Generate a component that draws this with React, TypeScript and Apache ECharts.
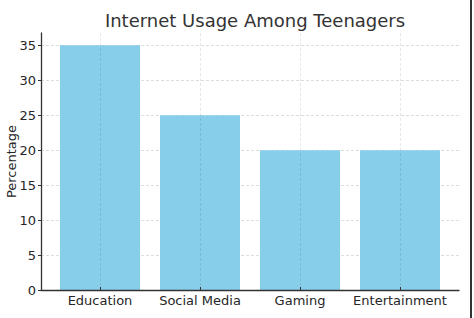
import React, { useEffect, useRef } from "react";
import * as echarts from "echarts";

const categories = ["Education", "Social Media", "Gaming", "Entertainment"];
const percentages = [35, 25, 20, 20];
const categoryPositions = [0, 1, 2, 3];
const chartTitle = "Internet Usage Among Teenagers";
const yAxisTitle = "Percentage";

export default function App() {
  const ref = useRef<HTMLDivElement>(null);
  useEffect(() => {
    if (!ref.current) return;
    const chart = echarts.init(ref.current, undefined, { renderer: "svg" });
    const font = "DejaVu Sans";
    chart.setOption({
      animation: false,
      backgroundColor: "#ffffff",
      title: {
        text: chartTitle,
        left: 250,
        top: 6,
        textAlign: "center",
        textStyle: { fontFamily: font, fontSize: 18, fontWeight: "normal", color: "#333333" },
      },
      grid: { left: 41, right: 15, top: 33, bottom: 28, containLabel: false, outerBoundsMode: "none" },
      xAxis: {
        type: "value",
        min: -0.59,
        max: 3.59,
        z: 3,
        axisLine: { show: true, onZero: false, lineStyle: { color: "#333333", width: 1.3 } },
        axisTick: { show: true, customValues: categoryPositions, inside: true, length: 3, lineStyle: { color: "#333333" } },
        axisLabel: {
          customValues: categoryPositions,
          formatter: (v: number) => categories[Math.round(v)] ?? "",
          fontFamily: font,
          fontSize: 13,
          color: "#262626",
          margin: 4,
        },
        splitLine: { show: true, lineStyle: { color: "rgba(0,0,0,0.12)", type: [3, 2], width: 0.8 } },
      },
      yAxis: {
        type: "value",
        min: 0,
        max: 36.75,
        interval: 5,
        name: yAxisTitle,
        nameLocation: "middle",
        nameGap: 23,
        nameMoveOverlap: false,
        nameTextStyle: { fontFamily: font, fontSize: 13, color: "#262626" },
        axisLine: { show: true, onZero: false, lineStyle: { color: "#333333", width: 1.3 } },
        axisTick: { show: true, length: 3, lineStyle: { color: "#333333" } },
        axisLabel: { fontFamily: font, fontSize: 13, color: "#262626", margin: 5, showMaxLabel: false },
        splitLine: {
          show: true,
          showMinLine: false,
          showMaxLine: false,
          lineStyle: { color: "#d3d3d3", type: [3, 2], width: 0.8 },
        },
      },
      series: [
        {
          type: "bar",
          data: percentages.map((v, i) => [categoryPositions[i], v]),
          barWidth: 80,
          itemStyle: { color: "#87CEEB" },
        },
      ],
      graphic: [
        { type: "rect", shape: { x: 470, y: 0, width: 2, height: 318 }, style: { fill: "#333333" } },
      ],
    });
    return () => chart.dispose();
  }, []);
  return (
    <div
      ref={ref}
      style={{ position: "fixed", left: 0, top: 0, width: 474, height: 318 }}
    />
  );
}
